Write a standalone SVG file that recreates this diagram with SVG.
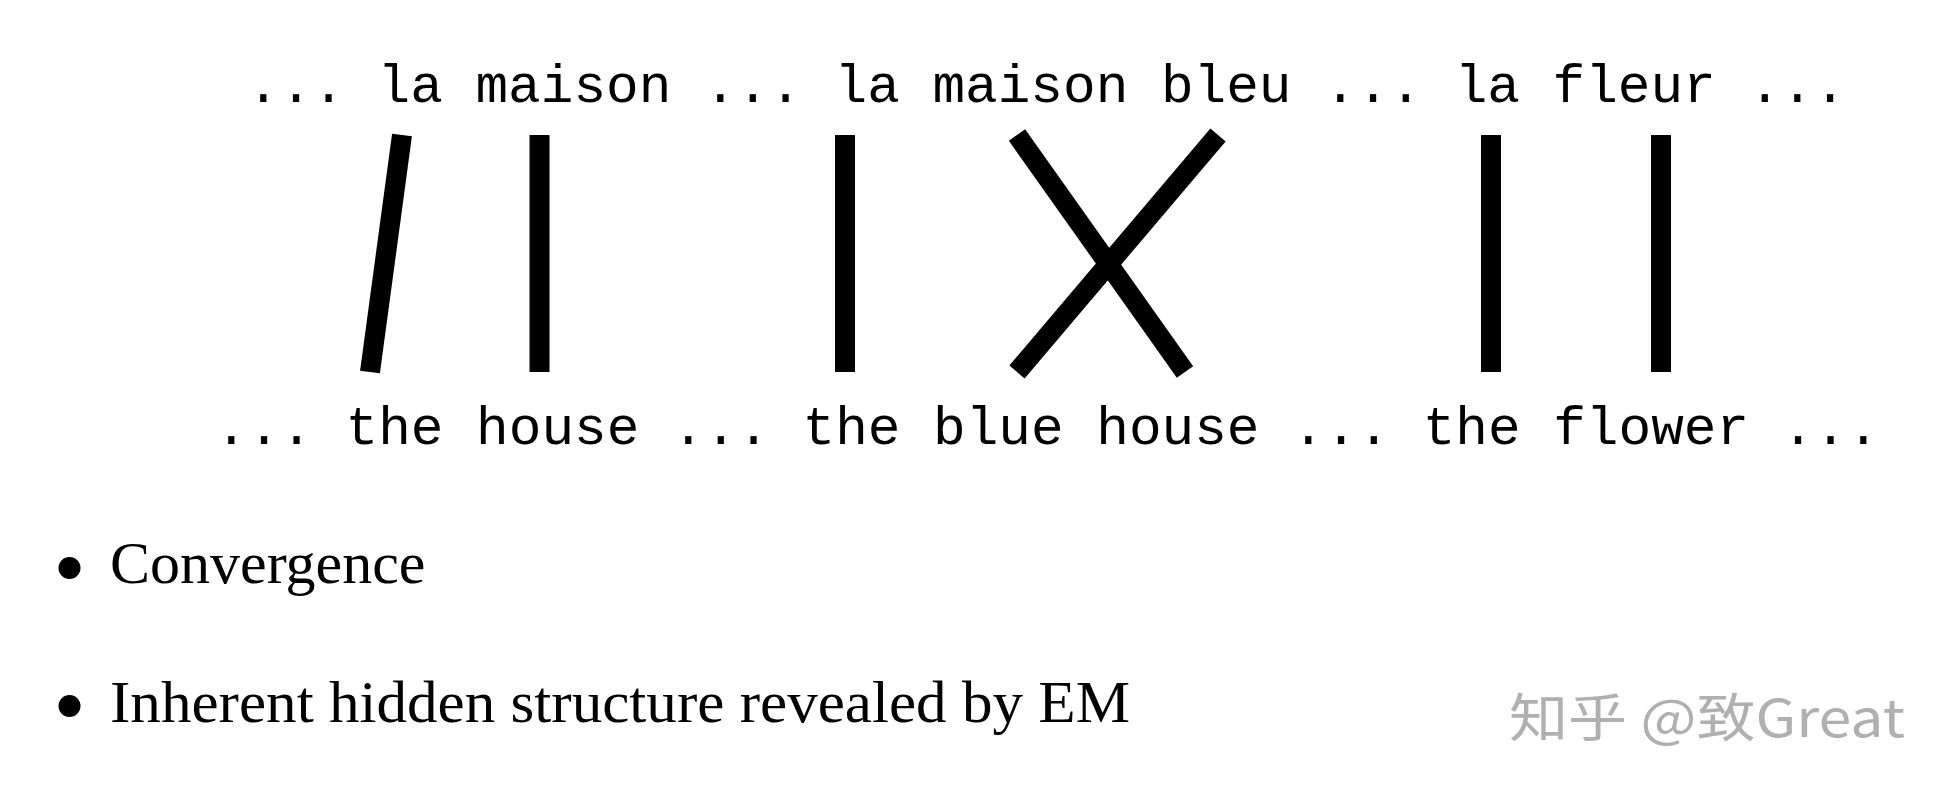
<svg xmlns="http://www.w3.org/2000/svg" width="1952" height="796" viewBox="0 0 1952 796">
<style>
.mono{font-family:"Liberation Mono","Courier New",monospace;font-size:54.4px;fill:#000}
.ser{font-family:"Liberation Serif","Times New Roman",serif;font-size:60px;fill:#000}
.ln{stroke:#000;stroke-width:20;stroke-linecap:butt;fill:none}
.wm{font-family:"Noto Sans CJK SC","Noto Sans",sans-serif;font-size:52px;fill:#b0b0b0}
</style>
<rect width="1952" height="796" fill="#fff"/>
<g id="french">
<text class="mono" x="247" y="102" xml:space="preserve">... la maison ... la maison bleu ... la fleur ...</text>
</g>
<g id="english">
<text class="mono" x="215" y="444" xml:space="preserve">... the house ... the blue house ... the flower ...</text>
</g>
<g id="connectors">
<line class="ln" x1="402" y1="135" x2="370" y2="372"/>
<line class="ln" x1="539.5" y1="135" x2="539.5" y2="372"/>
<line class="ln" x1="845" y1="135" x2="845" y2="372"/>
<line class="ln" x1="1017" y1="135" x2="1185" y2="372"/>
<line class="ln" x1="1218" y1="135" x2="1017" y2="372"/>
<line class="ln" x1="1491" y1="135" x2="1491" y2="372"/>
<line class="ln" x1="1661" y1="135" x2="1661" y2="372"/>
</g>
<g id="bullets">
<circle cx="69.5" cy="568" r="11" fill="#000"/>
<text class="ser" x="110" y="583">Convergence</text>
<circle cx="69.5" cy="706" r="11" fill="#000"/>
<text class="ser" x="110" y="722" textLength="1020" lengthAdjust="spacingAndGlyphs">Inherent hidden structure revealed by EM</text>
</g>
<g id="watermark">
<text class="wm" x="1509" y="737" textLength="396" lengthAdjust="spacingAndGlyphs">知乎 @致Great</text>
</g>
</svg>
